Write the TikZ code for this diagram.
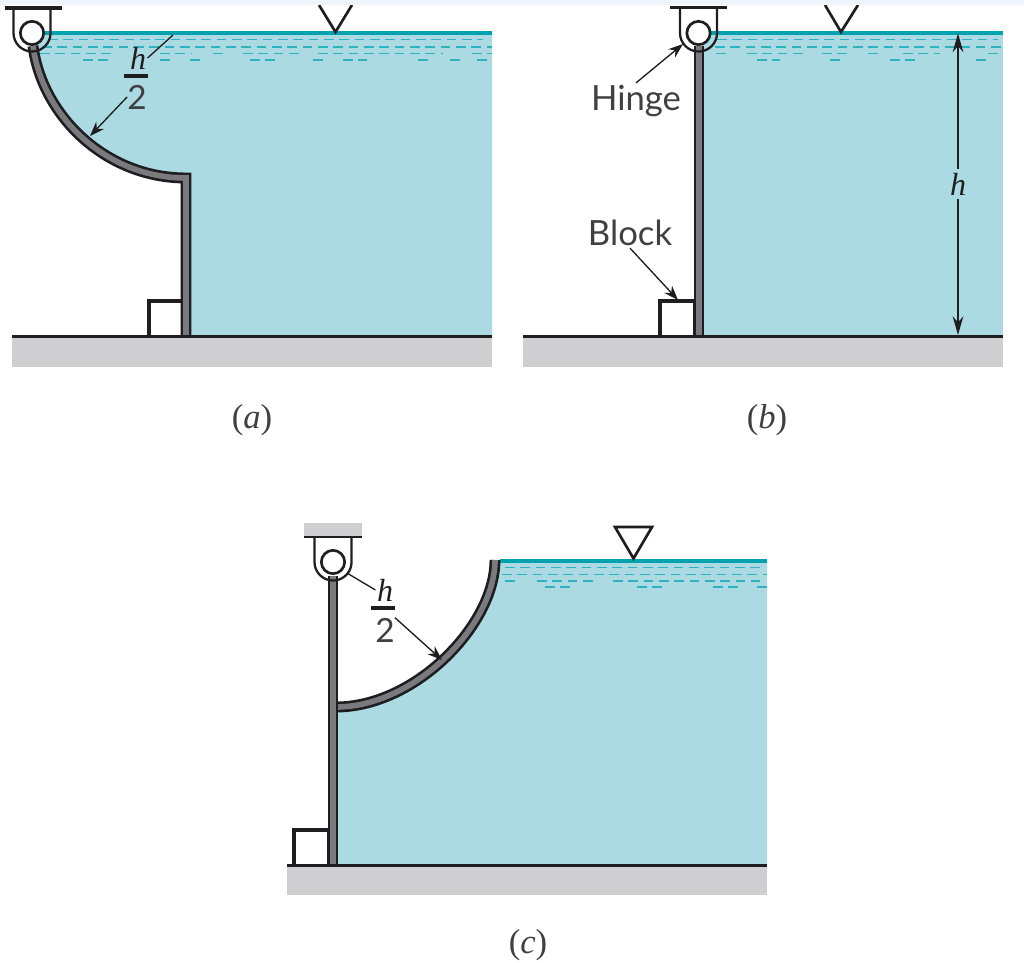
\documentclass[tikz,border=0pt]{standalone}
\usepackage{fontspec}
\setsansfont{Lato}
\setmainfont{Liberation Serif}
\usetikzlibrary{arrows.meta}
\definecolor{water}{HTML}{ABDAE2}
\definecolor{surf}{HTML}{00A3AE}
\definecolor{ripple}{HTML}{2DB3BD}
\definecolor{groundgrey}{HTML}{CFCFD1}
\definecolor{gategrey}{HTML}{7A7A7E}
\definecolor{ink}{HTML}{1E1E20}
\definecolor{band}{HTML}{EEF5FC}
\tikzset{
  wateronly/.style={fill=water,draw=none},
  surfline/.style={draw=surf,line width=2.4pt},
  rip/.style={draw=ripple,line width=1pt,dash pattern=on 7.2pt off 4.3pt},
  gatepath/.style={draw=ink,line width=2pt,double=gategrey,double distance=4.2pt,line join=miter},
  groundfill/.style={fill=groundgrey,draw=none},
  groundline/.style={draw=ink,line width=2.9pt},
  blockbox/.style={draw=ink,line width=2.4pt,fill=white},
  pinball/.style={circle,draw=ink,line width=2pt,fill=white,minimum size=17.5pt,inner sep=0pt},
  topbar/.style={draw=ink,line width=2.4pt},
  bracketpic/.pic={\draw[draw=ink,line width=1.7pt] (-18.5,-25) -- (-18.5,0) arc[start angle=180,end angle=360,radius=13.9pt] -- (18.5,-25);},
  levelmark/.style={draw=ink,line width=2pt,line join=miter},
  leadline/.style={draw=ink,line width=1pt},
  arrowlead/.style={leadline,-{Stealth[length=11pt,width=8pt]}},
  dimarrow/.style={draw=ink,line width=1.3pt,-{Stealth[length=14pt,width=8pt]}},
  labtext/.style={font=\sffamily\fontsize{26}{28}\selectfont,text=ink!85!white,inner sep=1.5pt},
  numtext/.style={font=\sffamily\fontsize{25}{26}\selectfont,text=ink!85!white,inner sep=0pt},
  symtext/.style={font=\itshape\fontsize{24}{26}\selectfont,text=ink,inner sep=1pt},
  captext/.style={font=\fontsize{26}{28}\selectfont,text=ink!85!white,inner sep=0pt},
  fracbar/.style={fill=ink,inner sep=0pt,minimum width=17.5pt,minimum height=2.8pt},
}
\newcommand{\rp}[3]{\draw[rip] (#2,#1) -- (#3,#1);}
\begin{document}
\begin{tikzpicture}[x=.75pt,y=-.75pt]
\useasboundingbox (0,0) rectangle (1024,963);
% ---------- panel a
\fill[groundfill] (12,337) rectangle (492,367);
\fill[wateronly] (32,33) -- (32,48) .. controls (42,115) and (105,178) .. (187,178) -- (187,336) -- (492,336) -- (492,33) -- cycle;
\draw[surfline] (42,33) -- (492,33);
\rp{39.5}{48}{483}\rp{47}{42}{492}
\rp{53.5}{40}{115}\rp{53.5}{160}{192}\rp{53.5}{213}{223}\rp{53.5}{243}{300}\rp{53.5}{318}{443}\rp{53.5}{472}{492}
\rp{60}{83}{110}\rp{60}{160}{170}\rp{60}{190}{200}\rp{60}{250}{277}\rp{60}{313}{323}\rp{60}{343}{367}\rp{60}{418}{430}\rp{60}{450}{460}\rp{60}{477}{487}
\draw[levelmark] (319,5) -- (335.5,32) -- (352,5);
\draw[blockbox] (149,336) -- (149,301) -- (183,301) -- (183,336);
\draw[gatepath] (33,46) .. controls (42,115) and (105,178) .. (186,178) -- (186,336);
\pic at (32,33) {bracketpic};
\draw[topbar] (5,8) -- (62,8);
\node[pinball] (pinA) at (32,33) {};
\draw[groundline] (12,336.5) -- (492,336.5);
\node[symtext] (hA) at (138,58) {h};
\node[fracbar] (barA) at (136,76) {};
\node[numtext] (twoA) at (137,97) {2};
\coordinate (surfA) at (173,35);
\coordinate (tipA) at (90,136);
\draw[leadline] (surfA) -- (hA.east);
\draw[arrowlead] (twoA.west) -- (tipA);
\node[captext] (capA) at (252,420) {(\textit{a})};
% ---------- panel b
\fill[groundfill] (523,337) rectangle (1003,367);
\fill[wateronly] (699,33) rectangle (1003,336);
\draw[surfline] (709,33) -- (1003,33);
\rp{39.5}{717}{998}\rp{47}{715}{1002}
\rp{53.5}{716}{726}\rp{53.5}{747}{803}\rp{53.5}{822}{847}\rp{53.5}{868}{878}\rp{53.5}{903}{940}\rp{53.5}{988}{998}
\rp{60}{757}{780}\rp{60}{830}{840}\rp{60}{890}{918}\rp{60}{976}{986}
\draw[levelmark] (825,5) -- (841,32) -- (858,5);
\draw[blockbox] (660,336) -- (660,301) -- (695,301) -- (695,336);
\draw[gatepath] (699,46) -- (699,336);
\pic at (698.5,33) {bracketpic};
\draw[topbar] (670,7.5) -- (727,7.5);
\node[pinball] (pinB) at (698.5,33) {};
\draw[groundline] (523,336.5) -- (1003,336.5);
\node[labtext] (hinge) at (636,101) {Hinge};
\node[labtext] (block) at (630,233) {Block};
\coordinate (tipHinge) at (683,44);
\coordinate (tipBlock) at (678,300);
\draw[arrowlead] (hinge.north) -- (tipHinge);
\draw[arrowlead] (block.south) -- (tipBlock);
\node[symtext,inner sep=3pt] (hB) at (958,184) {h};
\coordinate (dimTop) at (958,33.5);
\coordinate (dimBot) at (958,335);
\draw[dimarrow] (hB.north) -- (dimTop);
\draw[dimarrow] (hB.south) -- (dimBot);
\node[captext] (capB) at (767,420) {(\textit{b})};
% ---------- panel c
\fill[groundfill] (287,867) rectangle (767,895);
\fill[wateronly] (333,706) -- (338,707) .. controls (415,707) and (495,625) .. (495,561) -- (767,561) -- (767,865) -- (333,865) -- cycle;
\draw[surfline] (500,561) -- (767,561);
\rp{567.5}{505}{760}\rp{574.5}{502}{767}
\rp{581}{505}{515}\rp{581}{537}{593}\rp{581}{613}{760}
\rp{587}{545}{570}\rp{587}{637}{662}\rp{587}{713}{738}\rp{587}{757}{767}
\draw[levelmark] (615,527) -- (652,527) -- (633.5,558.5) -- cycle;
\draw[blockbox] (294,865) -- (294,830) -- (329,830) -- (329,865);
\draw[gatepath] (495,560) .. controls (495,625) and (415,707) .. (336,707);
\draw[gatepath] (333,576) -- (333,865);
\fill[groundgrey] (304,523) rectangle (362,536.5);
\pic at (333,562) {bracketpic};
\draw[draw=ink,line width=1.2pt] (304,537) -- (362,537);
\node[pinball] (pinC) at (333,562) {};
\draw[groundline] (287,865.5) -- (767,865.5);
\node[symtext] (hC) at (385,590) {h};
\node[fracbar] (barC) at (383,608) {};
\node[numtext] (twoC) at (385,630) {2};
\coordinate (leadC) at (347,573);
\coordinate (tipC) at (442,660);
\draw[leadline] (leadC) -- (hC.west);
\draw[arrowlead] (twoC.north east) -- (tipC);
\node[captext] (capC) at (528,945) {(\textit{c})};
% ---------- top band
\fill[band] (0,0) rectangle (1024,5);
\end{tikzpicture}
\end{document}
